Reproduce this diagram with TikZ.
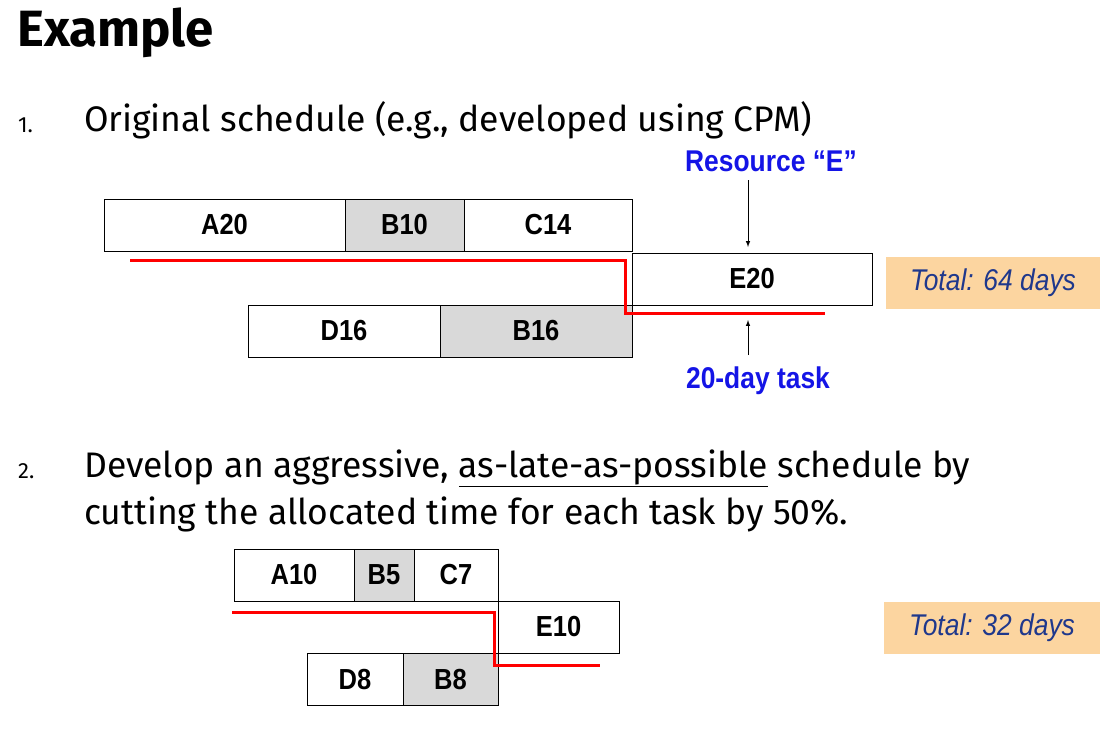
\documentclass[tikz,border=0pt]{standalone}
\usepackage{fontspec}
\setmainfont{Fira Sans}
\newfontfamily\arial{Liberation Sans}
\newfontfamily\arialn[FakeStretch=0.88]{Liberation Sans}
\definecolor{grayfill}{RGB}{217,217,217}
\definecolor{orangefill}{RGB}{252,213,160}
\definecolor{navy}{RGB}{31,56,140}
\definecolor{bluetxt}{RGB}{20,20,230}
\begin{document}
\begin{tikzpicture}[x=1pt,y=-1pt,
  bar/.style={draw=black,line width=1pt,inner sep=0pt,minimum height=52pt,font=\arialn\fontsize{29}{30}\selectfont\bfseries},
  grey/.style={fill=grayfill},
  tot/.style={fill=orangefill,inner sep=0pt,minimum height=52pt,text=navy,font=\arialn\fontsize{30}{31}\selectfont\itshape},
  red/.style={draw=red,line width=3pt},
  ann/.style={text=bluetxt,font=\arialn\fontsize{30}{30}\selectfont\bfseries},
  body/.style={anchor=base west,font=\fontsize{35.5}{44}\selectfont,inner sep=0pt}]
\useasboundingbox (0,0) rectangle (1115,754);
\node[anchor=base west,inner sep=0pt,font=\fontsize{51}{53}\selectfont\bfseries] (title) at (17,47) {Example};
\node[body,font=\fontsize{22}{24}\selectfont] (n1) at (18,133) {1.};
\node[body] (t1) at (84,132) {Original schedule (e.g., developed using CPM)};
% row 1
\node[bar,minimum width=241pt] (a20) at (224.5,225) {A20};
\node[bar,grey,minimum width=119pt] (b10) at (404.5,225) {B10};
\node[bar,minimum width=168pt] (c14) at (548,225) {C14};
\node[bar,minimum width=240pt] (e20) at (752,279) {E20};
\node[bar,minimum width=192pt] (d16) at (344,331) {D16};
\node[bar,grey,minimum width=192pt] (b16) at (536,331) {B16};
\coordinate (r1a) at (130,260);
\coordinate (r1b) at (625,260);
\coordinate (r1c) at (625,313);
\coordinate (r1d) at (825,313);
\draw[red] (r1a) -- (r1b) -- (r1c) -- (r1d);
\node[ann] (res) at (771,161) {Resource “E”};
\node[ann] (task) at (758,381) {20-day task};
\coordinate (e1) at (748,247);
\coordinate (e2) at (748,320);
\draw[-latex,line width=1pt] (748,180) -- (e1);
\draw[-latex,line width=1pt] (748,355) -- (e2);
\node[tot,minimum width=214pt] (tot1) at (993,283) {Total: 64 days};
% part 2
\node[body,font=\fontsize{22}{24}\selectfont] (n2) at (18,478) {2.};
\node[body] (t2a) at (84,477) {Develop an aggressive, \underline{as-late-as-possible} schedule by};
\node[body] (t2b) at (84,524) {cutting the allocated time for each task by 50\%.};
\node[bar,minimum width=120pt] (a10) at (294,575) {A10};
\node[bar,grey,minimum width=60pt] (b5) at (384,575) {B5};
\node[bar,minimum width=84pt] (c7) at (456,575) {C7};
\node[bar,minimum width=121pt] (e10) at (558.5,627) {E10};
\node[bar,minimum width=96pt] (d8) at (355,679.5) {D8};
\node[bar,grey,minimum width=95pt] (b8) at (450.5,679.5) {B8};
\coordinate (r2a) at (232,612);
\coordinate (r2b) at (494,612);
\coordinate (r2c) at (494,665);
\coordinate (r2d) at (600,665);
\draw[red] (r2a) -- (r2b) -- (r2c) -- (r2d);
\node[tot,minimum width=216pt] (tot2) at (992,628) {Total: 32 days};
\end{tikzpicture}
\end{document}
